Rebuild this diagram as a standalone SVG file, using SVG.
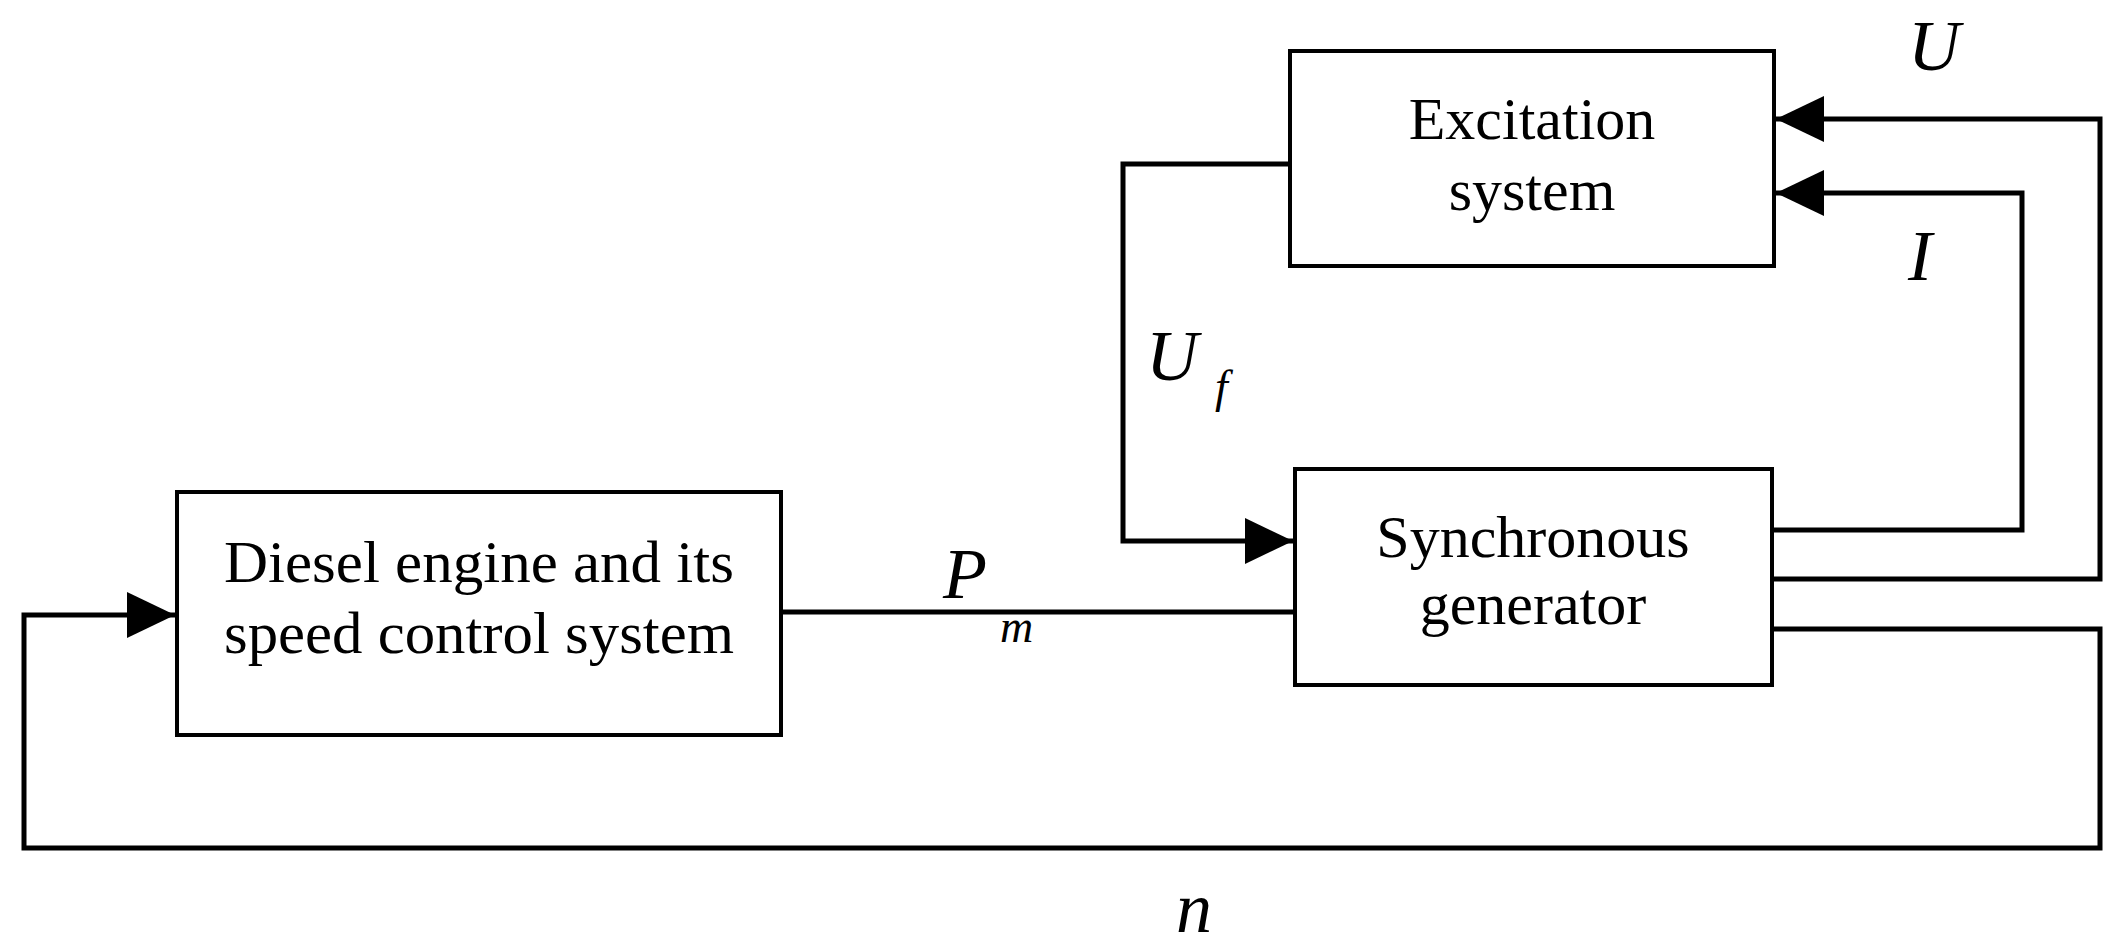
<svg xmlns="http://www.w3.org/2000/svg" width="2120" height="951" viewBox="0 0 2120 951">
<style>
.box{fill:#fff;stroke:#000;stroke-width:4}
.ln{fill:none;stroke:#000;stroke-width:5}
.t{font-family:"Liberation Serif",serif;font-size:60px;text-anchor:middle}
.i{font-family:"Liberation Serif",serif;font-style:italic;font-size:72px}
.s{font-family:"Liberation Serif",serif;font-style:italic;font-size:46px}
</style>
<defs>
<marker id="a" markerWidth="48" markerHeight="46" refX="48" refY="23" orient="auto" markerUnits="userSpaceOnUse">
<path d="M0,0 L48,23 L0,46 z" fill="#000"/>
</marker>
</defs>
<g id="connectors">
<polyline class="ln" points="1290,164 1123,164 1123,541 1293,541" marker-end="url(#a)"/>
<polyline class="ln" points="1772,530 2022,530 2022,193 1776,193" marker-end="url(#a)"/>
<polyline class="ln" points="1772,579 2100,579 2100,119 1776,119" marker-end="url(#a)"/>
<polyline class="ln" points="1772,629 2100,629 2100,848 24,848 24,615 175,615" marker-end="url(#a)"/>
<line class="ln" x1="781" y1="612" x2="1295" y2="612"/>
</g>
<g id="excitation"><rect class="box" x="1290" y="51" width="484" height="215"/>
<text class="t" x="1532" y="139">Excitation</text><text class="t" x="1532" y="210">system</text></g>
<g id="generator"><rect class="box" x="1295" y="469" width="477" height="216"/>
<text class="t" x="1533" y="557">Synchronous</text><text class="t" x="1533" y="624">generator</text></g>
<g id="diesel"><rect class="box" x="177" y="492" width="604" height="243"/>
<text class="t" x="479" y="582" textLength="510" lengthAdjust="spacingAndGlyphs">Diesel engine and its</text>
<text class="t" x="479" y="653" textLength="510" lengthAdjust="spacingAndGlyphs">speed control system</text></g>
<g id="labels">
<text class="i" x="1908" y="70">U</text>
<text class="i" x="1908" y="280">I</text>
<text class="i" x="1146" y="380">U</text><text class="s" x="1215" y="402">f</text>
<text class="i" x="943" y="598">P</text><text class="s" x="1000" y="642">m</text>
<text class="i" x="1176" y="932">n</text>
</g>
</svg>
